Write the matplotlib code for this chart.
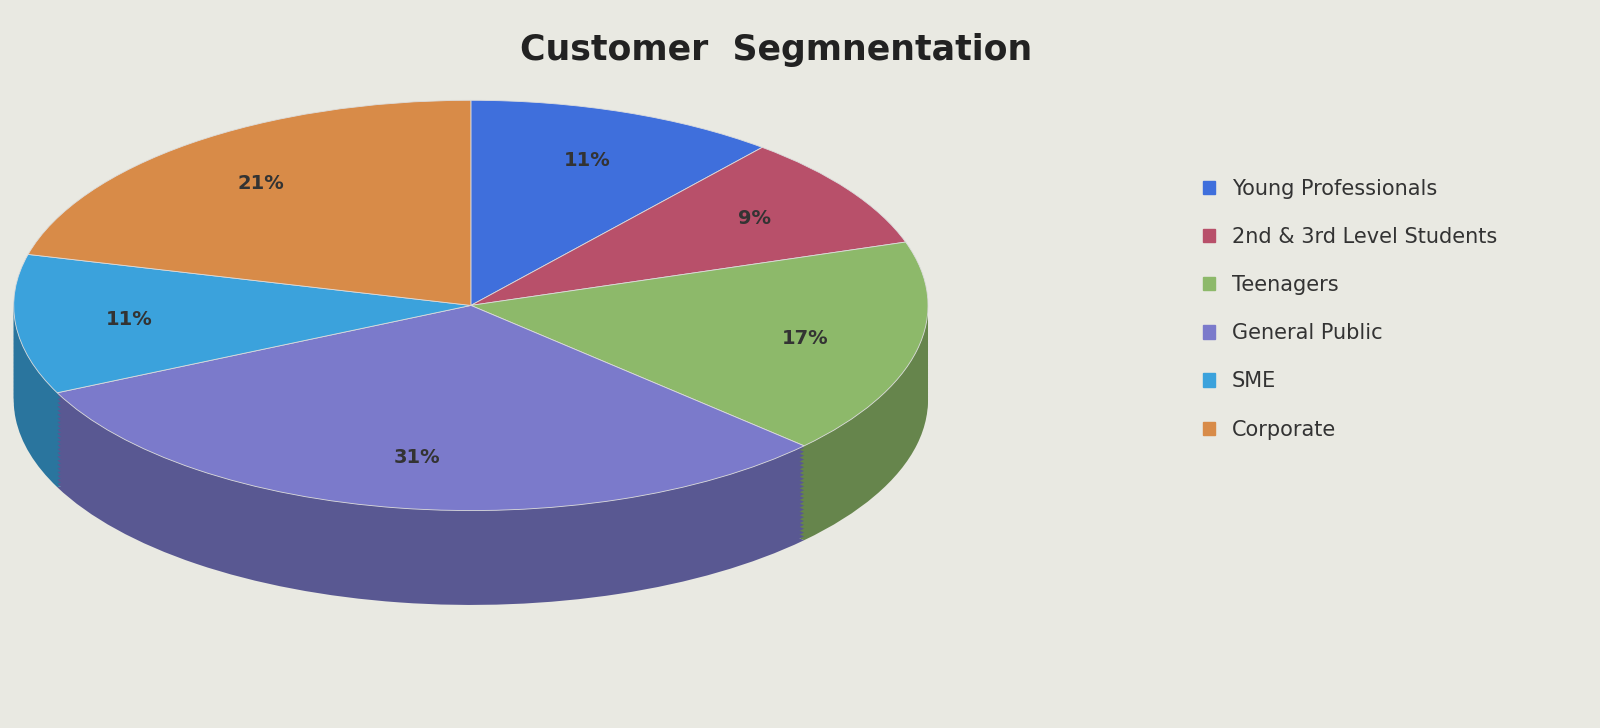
import numpy as np
import matplotlib.pyplot as plt
import matplotlib.colors as mcolors

# data
segments = ['Young Professionals', '2nd & 3rd Level Students', 'Teenagers',
            'General Public', 'SME', 'Corporate']
shares = [11, 9, 17, 31, 11, 21]
colors = ['#3f6fdc', '#b8506a', '#8db96a', '#7b7acb', '#3ba2dc', '#d88b48']

bg = '#e9e9e2'
fig = plt.figure(figsize=(16, 7.28), dpi=100, facecolor=bg)
fig.suptitle('Customer  Segmnentation', x=0.485, y=0.955, fontsize=25,
             fontweight='semibold', color='#222222')

ax = fig.add_axes([0.0, 0.08, 0.6, 0.8])
ax.set_facecolor(bg)

# darker side of the "3d" pie, stacked layers
dark = [mcolors.to_hex(np.array(mcolors.to_rgb(c)) * 0.72) for c in colors]
depth = 0.46
for d in np.linspace(depth, 0.01, 25):
    ax.pie(shares, colors=dark, startangle=90, counterclock=False,
           center=(0, -d), radius=1, wedgeprops=dict(linewidth=0))

wedges, texts, autotexts = ax.pie(
    shares, colors=colors, startangle=90, counterclock=False, radius=1,
    autopct='%d%%', pctdistance=0.75,
    wedgeprops=dict(linewidth=0.6, edgecolor='#dddddd'),
    textprops=dict(fontsize=14, fontweight='bold', color='#333333'))

ax.set_aspect('auto')
ax.set_xlim(-1.03, 1.07)
ax.set_ylim(-1.776, 1.063)
ax.axis('off')

handles = [plt.Rectangle((0, 0), 1, 1, color=c) for c in colors]
fig.legend(handles, segments, loc='upper left', bbox_to_anchor=(0.74, 0.78),
           frameon=False, fontsize=15, handlelength=0.6, handleheight=0.6,
           labelspacing=1.35, labelcolor='#333333')

fig.savefig('out.png', dpi=100, facecolor=bg)
